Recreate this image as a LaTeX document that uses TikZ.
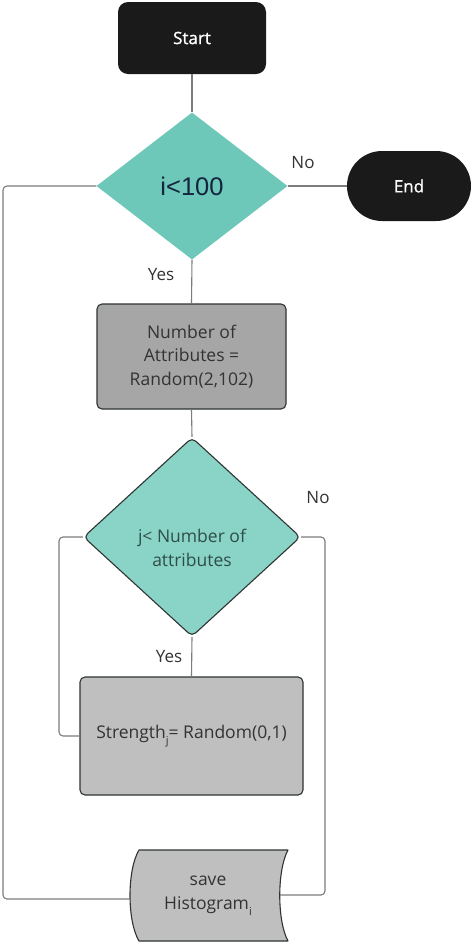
\documentclass[tikz,border=0pt]{standalone}
\usepackage{fontspec}
\setmainfont{Open Sans}
\newfontfamily\arialf{Liberation Sans}
\newfontfamily\semib[FakeBold=1.2]{Open Sans}
\usetikzlibrary{shapes.geometric}
\definecolor{blk}{HTML}{1A1A1A}
\definecolor{tealA}{HTML}{6DC8B9}
\definecolor{tealB}{HTML}{89D4C7}
\definecolor{grayA}{HTML}{A6A6A6}
\definecolor{grayB}{HTML}{BFBFBF}
\definecolor{edge}{HTML}{2E3432}
\definecolor{wire}{HTML}{7C7C7C}
\definecolor{txt}{HTML}{333333}
\definecolor{navy}{HTML}{15243F}
\definecolor{tealtxt}{HTML}{2F4D48}
\newcommand{\lowsub}[1]{\raisebox{-6pt}{\fontsize{11}{12}\selectfont #1}}
\tikzset{
  termbox/.style={fill=blk, text=white, font=\semib\fontsize{17}{20}\selectfont, inner sep=0},
  procbox/.style={draw=edge, line width=1.1pt, rounded corners=5pt, text=txt, inner sep=0,
    font=\fontsize{17.5}{23.5}\selectfont, align=center},
  wireline/.style={draw=wire, line width=1.1pt, rounded corners=4pt},
  lbl/.style={text=txt, font=\fontsize{17}{20}\selectfont, inner sep=0}
}
\begin{document}
\begin{tikzpicture}[x=1pt,y=-1pt]
\useasboundingbox (0,0) rectangle (474,946);
\fill[white] (0,0) rectangle (474,946);

% terminals
\node[termbox, rounded corners=10pt, minimum width=148pt, minimum height=72pt] (start) at (192,38) {Start};
\node[termbox, rounded corners=35pt, minimum width=124pt, minimum height=70pt] (end) at (409,186) {End};

% decision 1
\node[diamond, fill=tealA, inner sep=0, aspect=1.3, minimum width=191pt, minimum height=147pt,
  text=navy, font=\arialf\fontsize{25.5}{28}\selectfont] (d1) at (192,186) {i<100};

% process box
\node[procbox, fill=grayA, minimum width=189pt, minimum height=105pt] (nattr) at (191.5,356.5)
  {Number of\\Attributes =\\Random(2,102)};

% decision 2
\node[diamond, fill=tealB, draw=edge, line width=1.1pt, rounded corners=5pt, inner sep=0, aspect=1.09,
  minimum width=217pt, minimum height=199pt] (d2) at (192,537) {};
\node[text=tealtxt, align=center, inner sep=0, font=\fontsize{17.5}{23.5}\selectfont] (d2txt) at (192,548)
  {j< Number of\\attributes};

% strength box
\node[procbox, fill=grayB, minimum width=223pt, minimum height=118pt] (str) at (191.5,736)
  {Strength\lowsub{j}= Random(0,1)};

% save histogram (stored data)
\filldraw[fill=grayB, draw=edge, line width=1.1pt, line join=round]
  (139,850) -- (288,850) .. controls (277,870) and (277,921) .. (288,941)
  -- (139,941) .. controls (127,921) and (127,870) .. (139,850) -- cycle;
\node[inner sep=0, minimum width=150pt, minimum height=91pt, text=txt, align=center,
  font=\fontsize{17.5}{24}\selectfont] (save) at (208,895.5) {save\\Histogram\lowsub{i}};
\coordinate (saveW) at (130,899);
\coordinate (saveE) at (280,895);

% wire corners
\coordinate (c1) at (3,186);
\coordinate (c2) at (3,899);
\coordinate (c3) at (59,736);
\coordinate (c4) at (59,537);
\coordinate (c5) at (325,537);
\coordinate (c6) at (325,895);

% connectors
\draw[wireline] (start.south) -- (d1.north);
\draw[wireline] (d1.east) -- (end.west);
\draw[wireline] (d1.south) -- (nattr.north);
\draw[wireline] (nattr.south) -- (d2.north);
\draw[wireline] (d2.south) -- (str.north);
\draw[wireline] (d1.west) -- (c1) -- (c2) -- (saveW);
\draw[wireline] (str.west) -- (c3) -- (c4) -- (d2.west);
\draw[wireline] (d2.east) -- (c5) -- (c6) -- (saveE);

% labels
\node[lbl] (no1) at (303,163) {No};
\node[lbl] (yes1) at (161,275) {Yes};
\node[lbl] (no2) at (318,498) {No};
\node[lbl] (yes2) at (169,657) {Yes};
\end{tikzpicture}
\end{document}
